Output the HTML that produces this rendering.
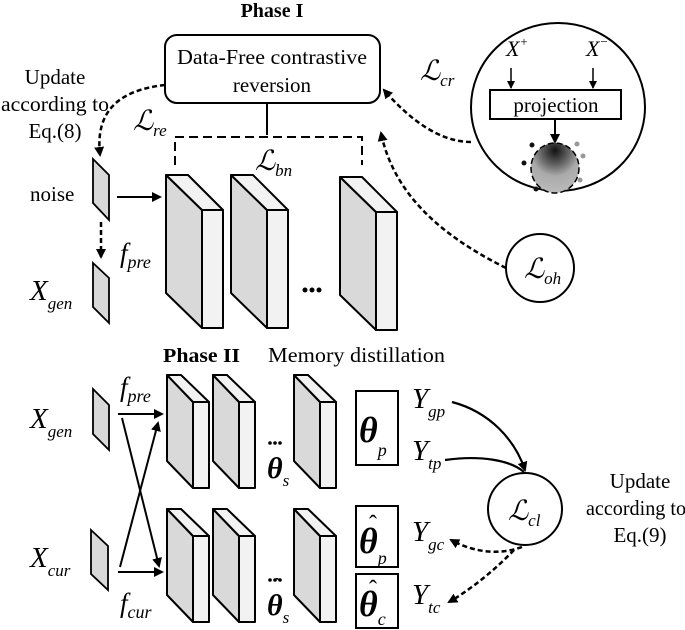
<!DOCTYPE html>
<html><head><meta charset="utf-8"><style>
html,body{margin:0;padding:0;background:#fff;}
svg{display:block;font-family:"Liberation Serif","DejaVu Serif",serif;}
.i{font-style:italic;}
</style></head><body>
<svg width="685" height="630" viewBox="0 0 685 630" xmlns="http://www.w3.org/2000/svg">
<defs>
<marker id="a" markerWidth="10" markerHeight="10" refX="8" refY="5" orient="auto" markerUnits="userSpaceOnUse"><path d="M0,0 L10,5 L0,10 z" fill="#000"/></marker>
<marker id="s" markerWidth="8" markerHeight="8" refX="7" refY="4" orient="auto" markerUnits="userSpaceOnUse"><path d="M0,0 L8,4 L0,8 z" fill="#000"/></marker>
<radialGradient id="g" cx="0.5" cy="0.15" r="0.85"><stop offset="0" stop-color="#111"/><stop offset="0.35" stop-color="#666"/><stop offset="0.6" stop-color="#aaa"/><stop offset="1" stop-color="#bbb"/></radialGradient>
</defs>

<!-- Phase I -->
<text x="272" y="17" font-size="20" font-weight="bold" text-anchor="middle">Phase I</text>
<rect x="165" y="35" width="215" height="68" rx="12" fill="#fff" stroke="#000" stroke-width="2"/>
<text x="272" y="64" font-size="21" text-anchor="middle" textLength="190" lengthAdjust="spacingAndGlyphs">Data-Free contrastive</text>
<text x="272" y="92" font-size="21" text-anchor="middle">reversion</text>

<text x="55" y="84" font-size="21" text-anchor="middle">Update</text>
<text x="55" y="111" font-size="21" text-anchor="middle" textLength="108" lengthAdjust="spacingAndGlyphs">according to</text>
<text x="55" y="138" font-size="21" text-anchor="middle">Eq.(8)</text>

<text x="133" y="130" font-size="28" class="i">ℒ<tspan font-size="17" dy="6">re</tspan></text>

<path d="M165,85 C120,90 95,110 100,155" fill="none" stroke="#000" stroke-width="2.5" stroke-dasharray="5,3" marker-end="url(#a)"/>

<line x1="267" y1="104" x2="267" y2="135" stroke="#000" stroke-width="2"/>
<path d="M175,165 L175,137 L362,137 L362,165" fill="none" stroke="#000" stroke-width="2" stroke-dasharray="9,5"/>
<text x="255" y="170" font-size="28" class="i">ℒ<tspan font-size="17" dy="6">bn</tspan></text>

<text x="30" y="201" font-size="21">noise</text>
<polygon points="93,159 109,175 109,220 93,203" fill="#d9d9d9" stroke="#000" stroke-width="1.8"/>
<line x1="117" y1="197" x2="160" y2="197" stroke="#000" stroke-width="2" marker-end="url(#a)"/>
<path d="M101,222 L101,257" stroke="#000" stroke-width="2.5" stroke-dasharray="5,3" marker-end="url(#a)"/>
<polygon points="93,263 109,278 109,323 93,307" fill="#d9d9d9" stroke="#000" stroke-width="1.8"/>
<text x="30" y="300" font-size="29" class="i">X<tspan font-size="17" dy="9">gen</tspan></text>
<text x="120" y="262" font-size="27" class="i">f<tspan font-size="18" dy="6">pre</tspan></text>

<g stroke="#000" stroke-width="2" stroke-linejoin="round">
<g transform="translate(166,175)">
<polygon points="0,0 36,35 36,153 0,118" fill="#d9d9d9"/>
<polygon points="0,0 22,0 57,35 36,35" fill="#f2f2f2"/>
<rect x="36" y="35" width="21" height="118" fill="#f2f2f2"/>
</g>
<g transform="translate(231,175)">
<polygon points="0,0 36,35 36,153 0,118" fill="#d9d9d9"/>
<polygon points="0,0 22,0 57,35 36,35" fill="#f2f2f2"/>
<rect x="36" y="35" width="21" height="118" fill="#f2f2f2"/>
</g>
<g transform="translate(340,177)">
<polygon points="0,0 36,35 36,153 0,118" fill="#d9d9d9"/>
<polygon points="0,0 22,0 57,35 36,35" fill="#f2f2f2"/>
<rect x="36" y="35" width="21" height="118" fill="#f2f2f2"/>
</g>
</g>
<g fill="#000"><circle cx="305" cy="290" r="2.5"/><circle cx="312" cy="290" r="2.5"/><circle cx="319" cy="290" r="2.5"/></g>

<!-- Contrastive circle -->
<ellipse cx="558" cy="107" rx="87" ry="84" fill="#fff" stroke="#000" stroke-width="2"/>
<text x="506" y="56" font-size="22" class="i">X<tspan font-size="13" dy="-10">+</tspan></text>
<text x="586" y="56" font-size="22" class="i">X<tspan font-size="13" dy="-10">−</tspan></text>
<line x1="511" y1="68" x2="511" y2="88" stroke="#000" stroke-width="1.5" marker-end="url(#s)"/>
<line x1="593" y1="68" x2="593" y2="88" stroke="#000" stroke-width="1.5" marker-end="url(#s)"/>
<rect x="490" y="90" width="131" height="29" fill="#fff" stroke="#000" stroke-width="2"/>
<text x="556" y="112" font-size="21" text-anchor="middle">projection</text>
<line x1="555" y1="119" x2="555" y2="142" stroke="#000" stroke-width="2" marker-end="url(#a)"/>
<ellipse cx="555" cy="168" rx="24" ry="25" fill="url(#g)" stroke="#000" stroke-width="1.5" stroke-dasharray="6,3"/>
<g fill="#111"><circle cx="532" cy="145" r="2.5"/><circle cx="524" cy="163" r="2.5"/><circle cx="536" cy="189" r="2.5"/></g>
<g fill="#999"><circle cx="577" cy="144" r="2.5"/><circle cx="583" cy="156" r="2.5"/><circle cx="580" cy="180" r="2.5"/></g>

<text x="420" y="80" font-size="28" class="i">ℒ<tspan font-size="17" dy="6">cr</tspan></text>
<path d="M471,142 C440,142 410,120 384,90" fill="none" stroke="#000" stroke-width="2.5" stroke-dasharray="5,3" marker-end="url(#a)"/>

<circle cx="540" cy="268" r="34" fill="#fff" stroke="#000" stroke-width="2"/>
<text x="524" y="278" font-size="28" class="i">ℒ<tspan font-size="17" dy="6">oh</tspan></text>
<path d="M506,268 C450,240 395,200 381,133" fill="none" stroke="#000" stroke-width="2.5" stroke-dasharray="5,3" marker-end="url(#a)"/>

<!-- Phase II -->
<text x="163" y="362" font-size="20" font-weight="bold" textLength="77" lengthAdjust="spacingAndGlyphs">Phase II</text>
<text x="268" y="362" font-size="21" textLength="177" lengthAdjust="spacingAndGlyphs">Memory distillation</text>

<polygon points="93,389 109,405 109,450 93,434" fill="#d9d9d9" stroke="#000" stroke-width="1.8"/>
<polygon points="91,530 108,546 108,590 91,574" fill="#d9d9d9" stroke="#000" stroke-width="1.8"/>
<text x="30" y="428" font-size="29" class="i">X<tspan font-size="17" dy="9">gen</tspan></text>
<text x="30" y="567" font-size="29" class="i">X<tspan font-size="17" dy="9">cur</tspan></text>
<text x="120" y="396" font-size="27" class="i">f<tspan font-size="18" dy="6">pre</tspan></text>
<text x="120" y="612" font-size="27" class="i">f<tspan font-size="18" dy="6">cur</tspan></text>

<g stroke="#000" stroke-width="2" fill="none">
<line x1="118" y1="414" x2="162" y2="414" marker-end="url(#a)"/>
<line x1="122" y1="418" x2="159" y2="566" marker-end="url(#a)"/>
<line x1="120" y1="567" x2="158" y2="423" marker-end="url(#a)"/>
<line x1="118" y1="572" x2="162" y2="572" marker-end="url(#a)"/>
</g>

<g stroke="#000" stroke-width="2" stroke-linejoin="round">
<g transform="translate(167,375)">
<polygon points="0,0 26,27 26,113 0,86" fill="#d9d9d9"/>
<polygon points="0,0 14,0 42,27 26,27" fill="#f2f2f2"/>
<rect x="26" y="27" width="16" height="86" fill="#f2f2f2"/>
</g>
<g transform="translate(213,375)">
<polygon points="0,0 26,27 26,113 0,86" fill="#d9d9d9"/>
<polygon points="0,0 14,0 42,27 26,27" fill="#f2f2f2"/>
<rect x="26" y="27" width="16" height="86" fill="#f2f2f2"/>
</g>
<g transform="translate(294,375)">
<polygon points="0,0 26,27 26,113 0,86" fill="#d9d9d9"/>
<polygon points="0,0 14,0 42,27 26,27" fill="#f2f2f2"/>
<rect x="26" y="27" width="16" height="86" fill="#f2f2f2"/>
</g>
<g transform="translate(167,509)">
<polygon points="0,0 26,27 26,113 0,86" fill="#d9d9d9"/>
<polygon points="0,0 14,0 42,27 26,27" fill="#f2f2f2"/>
<rect x="26" y="27" width="16" height="86" fill="#f2f2f2"/>
</g>
<g transform="translate(213,509)">
<polygon points="0,0 26,27 26,113 0,86" fill="#d9d9d9"/>
<polygon points="0,0 14,0 42,27 26,27" fill="#f2f2f2"/>
<rect x="26" y="27" width="16" height="86" fill="#f2f2f2"/>
</g>
<g transform="translate(294,509)">
<polygon points="0,0 26,27 26,113 0,86" fill="#d9d9d9"/>
<polygon points="0,0 14,0 42,27 26,27" fill="#f2f2f2"/>
<rect x="26" y="27" width="16" height="86" fill="#f2f2f2"/>
</g>
</g>

<g fill="#000"><circle cx="270" cy="443" r="1.8"/><circle cx="275" cy="443" r="1.8"/><circle cx="280" cy="443" r="1.8"/>
<circle cx="270" cy="580" r="1.8"/><circle cx="275" cy="580" r="1.8"/><circle cx="280" cy="580" r="1.8"/></g>
<text x="267" y="478" font-size="30" font-weight="bold" class="i">θ<tspan font-size="17" font-weight="normal" dy="8">s</tspan></text>
<text x="267" y="615" font-size="30" font-weight="bold" class="i">θ<tspan font-size="17" font-weight="normal" dy="8">s</tspan></text>
<text x="277" y="592" font-size="20" text-anchor="middle">ˆ</text>

<g fill="#fff" stroke="#000" stroke-width="2">
<rect x="356" y="391" width="42" height="74"/>
<rect x="356" y="506" width="42" height="61"/>
<rect x="356" y="574" width="42" height="54"/>
</g>
<text x="359" y="442" font-size="36" font-weight="bold" class="i">θ<tspan font-size="18" font-weight="normal" dy="14">p</tspan></text>
<text x="359" y="553" font-size="36" font-weight="bold" class="i">θ<tspan font-size="18" font-weight="normal" dy="11">p</tspan></text>
<text x="369" y="532" font-size="24">ˆ</text>
<text x="359" y="616" font-size="36" font-weight="bold" class="i">θ<tspan font-size="18" font-weight="normal" dy="9">c</tspan></text>
<text x="369" y="597" font-size="24">ˆ</text>

<text x="412" y="408" font-size="29" class="i">Y<tspan font-size="17" dy="9">gp</tspan></text>
<text x="412" y="460" font-size="29" class="i">Y<tspan font-size="17" dy="9">tp</tspan></text>
<text x="412" y="541" font-size="29" class="i">Y<tspan font-size="17" dy="9">gc</tspan></text>
<text x="412" y="604" font-size="29" class="i">Y<tspan font-size="17" dy="9">tc</tspan></text>

<path d="M452,402 C490,412 515,440 525,470" fill="none" stroke="#000" stroke-width="2.2" marker-end="url(#a)"/>
<path d="M445,460 C480,455 510,460 524,472" fill="none" stroke="#000" stroke-width="2.2"/>
<ellipse cx="525" cy="509" rx="37" ry="36" fill="#fff" stroke="#000" stroke-width="2"/>
<text x="508" y="520" font-size="28" class="i">ℒ<tspan font-size="17" dy="6">cl</tspan></text>
<path d="M522,547 C500,555 475,553 451,540" fill="none" stroke="#000" stroke-width="2.5" stroke-dasharray="5,3" marker-end="url(#a)"/>
<path d="M514,550 C495,570 470,590 449,602" fill="none" stroke="#000" stroke-width="2.5" stroke-dasharray="5,3" marker-end="url(#a)"/>

<text x="640" y="488" font-size="21" text-anchor="middle">Update</text>
<text x="636" y="515" font-size="21" text-anchor="middle" textLength="100" lengthAdjust="spacingAndGlyphs">according to</text>
<text x="640" y="542" font-size="21" text-anchor="middle">Eq.(9)</text>
</svg>
</body></html>
